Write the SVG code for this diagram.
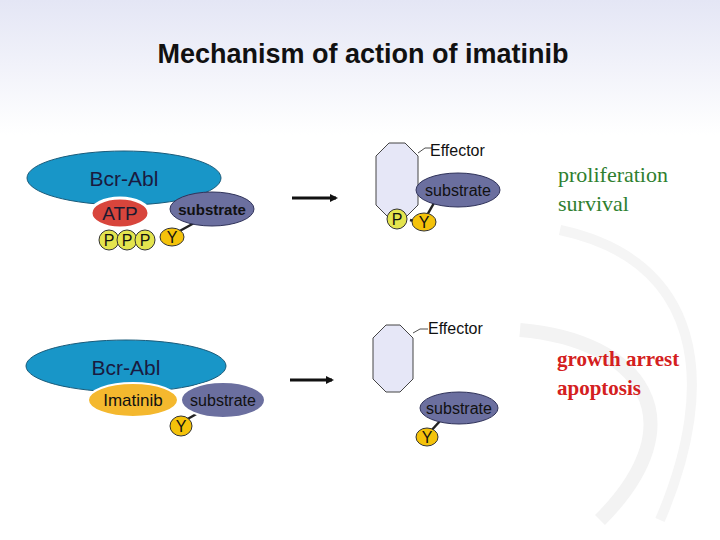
<svg xmlns="http://www.w3.org/2000/svg" width="720" height="540" viewBox="0 0 720 540">
<defs>
<linearGradient id="bg" x1="0" y1="0" x2="0" y2="1"><stop offset="0" stop-color="#e4e6f5"/><stop offset="0.25" stop-color="#ffffff"/><stop offset="1" stop-color="#ffffff"/></linearGradient>
<marker id="ah" markerWidth="8" markerHeight="8" refX="6" refY="4" orient="auto" markerUnits="userSpaceOnUse"><path d="M0,0 L8,4 L0,8 z" fill="#111"/></marker>
</defs>
<style>
text{font-family:"Liberation Sans",Arial,sans-serif}
.abl{fill:#1896c8;stroke:#1a5b7a;stroke-width:1}
.sub{fill:#6b6f9f;stroke:#30335a;stroke-width:1}
.p{fill:#e4e44e;stroke:#333;stroke-width:1}
.y{fill:#f4c20a;stroke:#333;stroke-width:1}
.eff{fill:#e6e7f7;stroke:#444;stroke-width:1}
.lk{stroke:#222;stroke-width:2.5}
.lbl{font-size:16px;fill:#111}
.big{font-size:21px;fill:#1a1a40}
</style>
<rect width="720" height="540" fill="url(#bg)"/>
<path d="M560,230 C700,260 720,380 660,520" fill="none" stroke="#f5f5f5" stroke-width="10"/>
<path d="M520,330 C640,340 700,420 600,520" fill="none" stroke="#f3f3f3" stroke-width="14"/>
<text x="363" y="63" text-anchor="middle" font-size="27" font-weight="bold" fill="#111">Mechanism of action of imatinib</text>

<g id="connectors">
<line x1="292" y1="198" x2="336" y2="198" stroke="#111" stroke-width="3" marker-end="url(#ah)"/>
<line x1="290" y1="380" x2="332" y2="380" stroke="#111" stroke-width="3" marker-end="url(#ah)"/>
<line class="lk" x1="196" y1="222" x2="176" y2="233"/>
<line class="lk" x1="434" y1="203" x2="426" y2="217"/>
<line class="lk" x1="410" y1="220" x2="414" y2="221"/>
<line class="lk" x1="200" y1="412" x2="184" y2="421"/>
<line class="lk" x1="440" y1="421" x2="430" y2="432"/>
<polyline points="418,153 425,148 432,148" fill="none" stroke="#222" stroke-width="0.8"/>
<polyline points="413,333 420,329 428,329" fill="none" stroke="#222" stroke-width="0.8"/>
</g>

<g id="bcrabl1"><ellipse class="abl" cx="124" cy="178" rx="97" ry="27"/><text x="124" y="186" text-anchor="middle" class="big">Bcr-Abl</text></g>
<g id="atp"><ellipse cx="120" cy="213" rx="29" ry="15" fill="#d8453c" stroke="#fff" stroke-width="3"/><text x="120" y="220" text-anchor="middle" font-size="19" fill="#1a1a30">ATP</text></g>
<g id="ppp">
<circle class="p" cx="109" cy="240" r="10"/><circle class="p" cx="127" cy="240" r="10"/><circle class="p" cx="145" cy="240" r="10"/>
<text x="109" y="246" text-anchor="middle" class="lbl">P</text><text x="127" y="246" text-anchor="middle" class="lbl">P</text><text x="145" y="246" text-anchor="middle" class="lbl">P</text></g>
<g id="y1"><ellipse class="y" cx="172" cy="237" rx="12" ry="9"/><text x="172" y="243" text-anchor="middle" class="lbl">Y</text></g>
<g id="sub1"><ellipse class="sub" cx="212" cy="209" rx="42" ry="17"/><text x="212" y="215" text-anchor="middle" font-size="15" font-weight="bold" fill="#111">substrate</text></g>

<g id="eff1"><polygon class="eff" points="389,143 405,143 418,156 418,205 405,218 389,218 376,205 376,156"/><text x="430" y="156" class="lbl">Effector</text></g>
<g id="sub2"><ellipse class="sub" cx="458" cy="190" rx="42" ry="17"/><text x="458" y="196" text-anchor="middle" class="lbl">substrate</text></g>
<g id="p2"><circle class="p" cx="397" cy="219" r="10"/><text x="397" y="225" text-anchor="middle" class="lbl">P</text></g>
<g id="y2"><ellipse class="y" cx="424" cy="222" rx="12" ry="9"/><text x="424" y="228" text-anchor="middle" class="lbl">Y</text></g>
<g id="out1"><text x="558" y="182" font-size="22" fill="#2f7f2f" style="font-family:'Liberation Serif',serif">proliferation</text><text x="558" y="211" font-size="22" fill="#2f7f2f" style="font-family:'Liberation Serif',serif">survival</text></g>

<g id="bcrabl2"><ellipse class="abl" cx="126" cy="366" rx="100" ry="26"/><text x="126" y="375" text-anchor="middle" class="big">Bcr-Abl</text></g>
<g id="imatinib"><ellipse cx="133" cy="400" rx="45" ry="17" fill="#f4b82e" stroke="#fff" stroke-width="2"/><text x="133" y="406" text-anchor="middle" font-size="17" fill="#111">Imatinib</text></g>
<g id="sub3"><ellipse class="sub" cx="223" cy="400" rx="42" ry="18" style="stroke:#fff;stroke-width:2"/><text x="223" y="406" text-anchor="middle" class="lbl">substrate</text></g>
<g id="y3"><ellipse class="y" cx="181" cy="426" rx="11" ry="10"/><text x="181" y="432" text-anchor="middle" class="lbl">Y</text></g>

<g id="eff2"><polygon class="eff" points="386,325 400,325 413,338 413,379 400,392 386,392 373,379 373,338"/><text x="428" y="334" class="lbl">Effector</text></g>
<g id="sub4"><ellipse class="sub" cx="459" cy="408" rx="39" ry="16"/><text x="459" y="414" text-anchor="middle" class="lbl">substrate</text></g>
<g id="y4"><ellipse class="y" cx="427" cy="437" rx="11" ry="9"/><text x="427" y="443" text-anchor="middle" class="lbl">Y</text></g>
<g id="out2"><text x="557" y="366" font-size="21" font-weight="bold" fill="#d42020" style="font-family:'Liberation Serif',serif">growth arrest</text><text x="557" y="395" font-size="21" font-weight="bold" fill="#d42020" style="font-family:'Liberation Serif',serif">apoptosis</text></g>
</svg>
